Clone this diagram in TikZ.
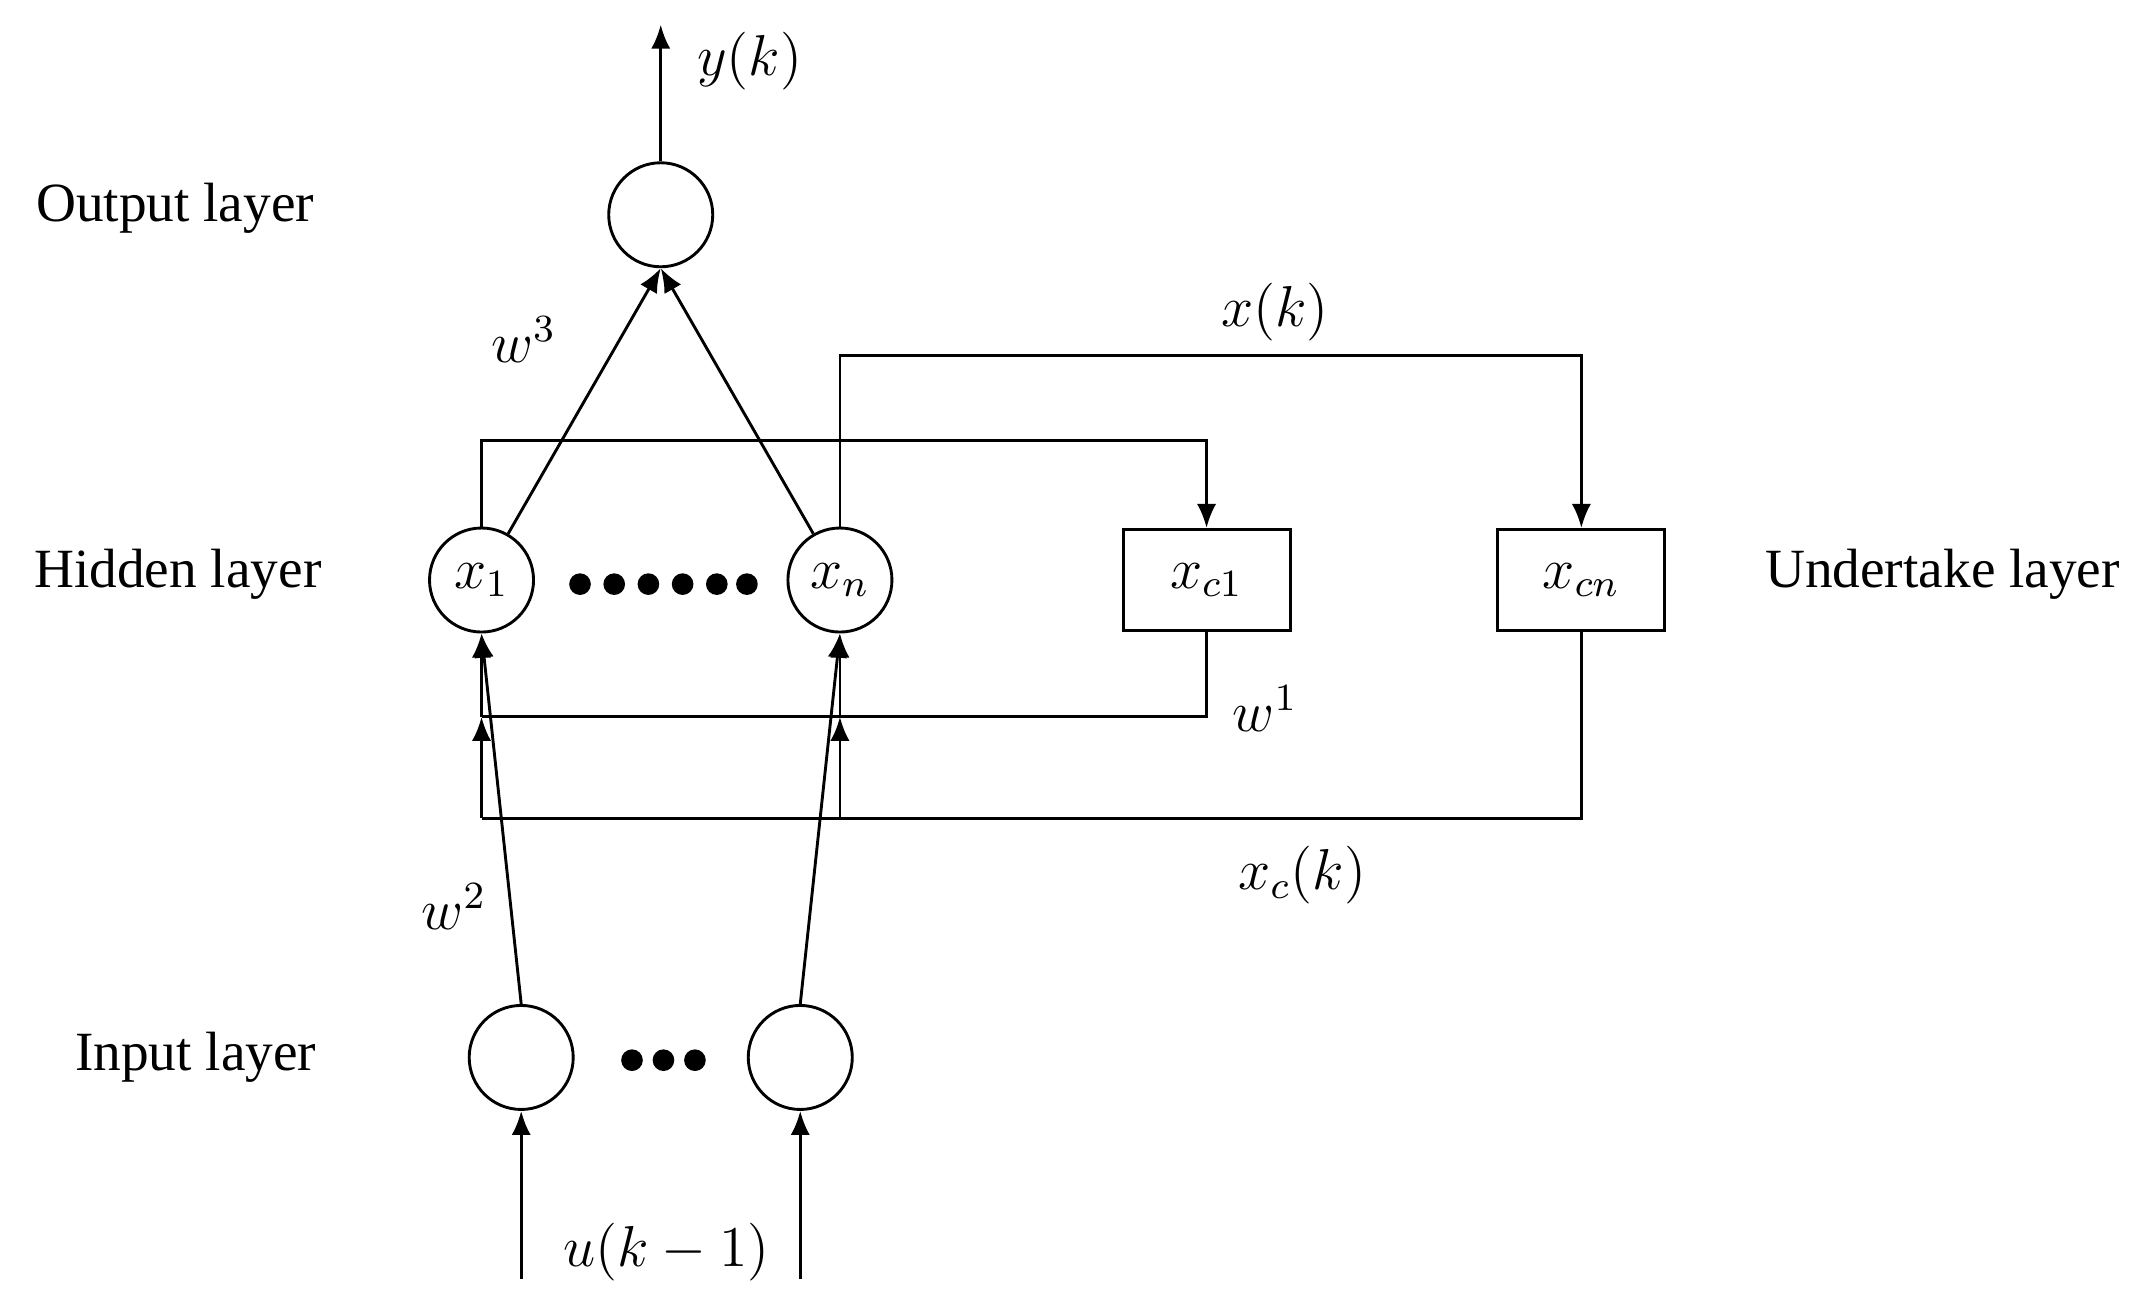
\documentclass[tikz,border=0pt]{standalone}
\usepackage{fontspec}
\setmainfont{Liberation Serif}
\usetikzlibrary{arrows.meta}
\begin{document}
\begin{tikzpicture}[x=0.01cm,y=-0.01cm,font=\fontsize{11.5}{13}\selectfont,
  neuron/.style={circle,draw,line width=0.6pt,minimum size=0.76cm,inner sep=0pt},
  box/.style={draw,line width=0.6pt,minimum width=1.22cm,minimum height=0.74cm,inner sep=0pt},
  con/.style={line width=0.6pt},
  arr/.style={con,-{Latex[length=5pt,width=4pt]}},
  dot/.style={circle,fill,inner sep=0pt,minimum size=4.5pt}]
\useasboundingbox (0,0) rectangle (1568,957);
\node[neuron] (o) at (483,157) {};
\node[neuron] (h1) at (352,424) {$x_1$};
\node[neuron] (hn) at (614,424) {$x_n$};
\node[box] (c1) at (882,424) {$x_{c1}$};
\node[box] (cn) at (1156,424) {$x_{cn}$};
\node[neuron] (i1) at (381,773) {};
\node[neuron] (i2) at (585,773) {};
\foreach \x [count=\k] in {424,449,474,499,524,546}{\node[dot] (hd\k) at (\x,427) {};}
\foreach \x [count=\k] in {462,485,508}{\node[dot] (id\k) at (\x,775) {};}
\node (lo) at (128,152) {Output layer};
\node (lh) at (130,420) {Hidden layer};
\node (lu) at (1420,420) {Undertake layer};
\node (li) at (143,773) {Input layer};
\node (ly) at (548,45) {$y(k)$};
\node (lx) at (932,228) {$x(k)$};
\node (lw3) at (383,248) {$w^3$};
\node (lw1) at (925,518) {$w^1$};
\node (lw2) at (332,663) {$w^2$};
\node (lxc) at (952,640) {$x_c(k)$};
\node (lu1) at (487,915) {$u(k-1)$};
\coordinate (top) at (483,18);
\coordinate (b1) at (381,935);
\coordinate (b2) at (585,935);
\coordinate (a1) at (352,524);
\coordinate (an) at (614,524);
\coordinate (d1) at (352,598);
\coordinate (dn) at (614,598);
\draw[arr] (o.north) -- (top);
\draw[arr] (h1) -- (o.south);
\draw[arr] (hn) -- (o.south);
\draw[arr] (h1.north) |- (882,322) -- (c1.north);
\draw[arr] (hn.north) |- (1156,260) -- (cn.north);
\draw[con] (c1.south) |- (a1);
\draw[arr] (a1) -- (h1.south);
\draw[arr] (an) -- (hn.south);
\draw[con] (cn.south) |- (d1);
\draw[arr] (d1) -- (a1);
\draw[arr] (dn) -- (an);
\draw[arr] (i1.north) -- (h1.south);
\draw[arr] (i2.north) -- (hn.south);
\draw[arr] (b1) -- (i1.south);
\draw[arr] (b2) -- (i2.south);
\end{tikzpicture}
\end{document}
